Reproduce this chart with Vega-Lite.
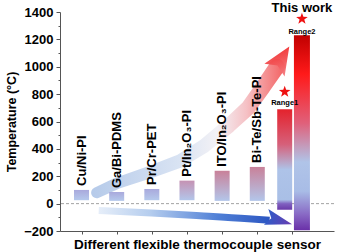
{
  "$schema": "https://vega.github.io/schema/vega-lite/v6.json",
  "width": 274,
  "height": 219,
  "autosize": {"type": "none"},
  "padding": {"left": 60, "top": 12, "right": 8, "bottom": 21},
  "config": {
    "font": "Liberation Sans",
    "view": {"stroke": null},
    "axis": {"labelOverlap": false, "grid": false, "domainColor": "#555", "tickColor": "#555", "labelColor": "#000", "titleColor": "#000", "titleFontWeight": "bold", "labelFontWeight": "bold"}
  },
  "datasets": {
    "bars": [
      {"name": "Cu/Ni-PI", "x": 1, "lo": 25, "hi": 100, "grp": "a"},
      {"name": "Ga/Bi-PDMS", "x": 2, "lo": 20, "hi": 85, "grp": "a"},
      {"name": "Pr/Cr-PET", "x": 3, "lo": 25, "hi": 107, "grp": "a"},
      {"name": "Pt/In₂O₃-PI", "x": 4, "lo": 25, "hi": 168, "grp": "b"},
      {"name": "ITO/In₂O₃-PI", "x": 5, "lo": 20, "hi": 240, "grp": "c"},
      {"name": "Bi-Te/Sb-Te-PI", "x": 6, "lo": 20, "hi": 268, "grp": "c"}
    ],
    "ranges": [
      {"name": "Range1", "x": 6.78, "lo": -45, "hi": 690, "star": 817, "lab": 737},
      {"name": "Range2", "x": 7.27, "lo": -195, "hi": 1230, "star": 1350, "lab": 1255}
    ],
    "upper": [
      {"x": 1.43, "y": 80},
      {"x": 1.98, "y": 146},
      {"x": 2.99, "y": 234},
      {"x": 3.82, "y": 314},
      {"x": 4.5, "y": 423},
      {"x": 5.19, "y": 569},
      {"x": 5.74, "y": 700},
      {"x": 6.15, "y": 847},
      {"x": 6.56, "y": 1000}
    ],
    "upperHead": [{"x": 6.7, "y": 1062}],
    "lower": [
      {"x": 1.49, "y": -51},
      {"x": 2.99, "y": -68},
      {"x": 4.37, "y": -88},
      {"x": 5.74, "y": -110},
      {"x": 6.35, "y": -122}
    ],
    "lowerHead": [{"x": 6.62, "y": -124}],
    "title": [{"x": 7.27, "y": 1432, "t": "This work"}],
    "zero": [{"x": 1, "y": 0}]
  },
  "layer": [
    {
      "data": {"name": "zero"},
      "mark": {"type": "rule", "stroke": "#8a8a8a", "strokeWidth": 0.8, "strokeDash": [3, 2]},
      "encoding": {
        "y": {"field": "y", "type": "quantitative", "scale": {"domain": [-200, 1400], "nice": false, "zero": false},
          "axis": {"title": "Temperature (°C)", "values": [-200, -100, 0, 100, 200, 300, 400, 500, 600, 700, 800, 900, 1000, 1100, 1200, 1300, 1400], "format": "d", "labelExpr": "datum.value % 200 === 0 ? datum.label : ''", "labelOverlap": false, "tickSize": {"condition": {"test": "datum.value % 200 === 0", "value": 4}, "value": 2}, "labelFontSize": 13, "labelPadding": 3, "titleFontSize": 12.5, "titlePadding": 5}}
      }
    },
    {
      "data": {"name": "upper"},
      "mark": {
        "type": "trail", "opacity": 0.8,
        "fill": {"gradient": "linear", "x1": 0, "y1": 0, "x2": 1, "y2": 0,
          "stops": [
            {"offset": 0, "color": "#a3bde4"},
            {"offset": 0.45, "color": "#cfdcf0"},
            {"offset": 0.65, "color": "#f0eef3"},
            {"offset": 0.8, "color": "#f3b2b7"},
            {"offset": 1, "color": "#f03a3a"}
          ]}
      },
      "encoding": {
        "x": {"field": "x", "type": "quantitative", "scale": {"domain": [0.53, 8.04], "nice": false, "zero": false},
          "axis": {"title": "Different flexible thermocouple sensor", "values": [1, 2, 3, 4, 5, 6, 7], "labels": false, "tickSize": 3, "titleFontSize": 13.5, "titlePadding": 3}},
        "y": {"field": "y", "type": "quantitative", "scale": {"domain": [-200, 1400], "nice": false, "zero": false},
          "axis": {"title": "Temperature (°C)", "values": [-200, -100, 0, 100, 200, 300, 400, 500, 600, 700, 800, 900, 1000, 1100, 1200, 1300, 1400], "format": "d", "labelExpr": "datum.value % 200 === 0 ? datum.label : ''", "labelOverlap": false, "tickSize": {"condition": {"test": "datum.value % 200 === 0", "value": 4}, "value": 2}, "labelFontSize": 13, "labelPadding": 3, "titleFontSize": 12.5, "titlePadding": 5}},
        "size": {"field": "x", "type": "quantitative", "scale": {"domain": [1.4, 6.6], "range": [11, 16]}, "legend": null}
      }
    },
    {
      "data": {"name": "upperHead"},
      "mark": {"type": "point", "filled": true, "opacity": 0.95, "strokeWidth": 0,
        "fill": {"gradient": "linear", "x1": 0, "y1": 1, "x2": 1, "y2": 0,
          "stops": [{"offset": 0, "color": "#f47c80"}, {"offset": 1, "color": "#f01a1a"}]},
        "shape": "M-1,-0.85L1,0L-1,0.85L-0.6,0Z", "size": 784, "angle": -58},
      "encoding": {
        "x": {"field": "x", "type": "quantitative", "scale": {"domain": [0.53, 8.04], "nice": false, "zero": false},
          "axis": {"title": "Different flexible thermocouple sensor", "values": [1, 2, 3, 4, 5, 6, 7], "labels": false, "tickSize": 3, "titleFontSize": 13.5, "titlePadding": 3}},
        "y": {"field": "y", "type": "quantitative", "scale": {"domain": [-200, 1400], "nice": false, "zero": false},
          "axis": {"title": "Temperature (°C)", "values": [-200, -100, 0, 100, 200, 300, 400, 500, 600, 700, 800, 900, 1000, 1100, 1200, 1300, 1400], "format": "d", "labelExpr": "datum.value % 200 === 0 ? datum.label : ''", "labelOverlap": false, "tickSize": {"condition": {"test": "datum.value % 200 === 0", "value": 4}, "value": 2}, "labelFontSize": 13, "labelPadding": 3, "titleFontSize": 12.5, "titlePadding": 5}}
      }
    },
    {
      "data": {"name": "lower"},
      "mark": {
        "type": "line", "strokeWidth": 7, "interpolate": "monotone", "strokeCap": "butt",
        "stroke": {"gradient": "linear", "x1": 0, "y1": 0, "x2": 1, "y2": 0,
          "stops": [
            {"offset": 0, "color": "#e6eef9"},
            {"offset": 0.3, "color": "#b5cdee"},
            {"offset": 0.7, "color": "#4f7fd6"},
            {"offset": 1, "color": "#2c56c2"}
          ]}
      },
      "encoding": {
        "x": {"field": "x", "type": "quantitative", "scale": {"domain": [0.53, 8.04], "nice": false, "zero": false},
          "axis": {"title": "Different flexible thermocouple sensor", "values": [1, 2, 3, 4, 5, 6, 7], "labels": false, "tickSize": 3, "titleFontSize": 13.5, "titlePadding": 3}},
        "y": {"field": "y", "type": "quantitative", "scale": {"domain": [-200, 1400], "nice": false, "zero": false},
          "axis": {"title": "Temperature (°C)", "values": [-200, -100, 0, 100, 200, 300, 400, 500, 600, 700, 800, 900, 1000, 1100, 1200, 1300, 1400], "format": "d", "labelExpr": "datum.value % 200 === 0 ? datum.label : ''", "labelOverlap": false, "tickSize": {"condition": {"test": "datum.value % 200 === 0", "value": 4}, "value": 2}, "labelFontSize": 13, "labelPadding": 3, "titleFontSize": 12.5, "titlePadding": 5}}
      }
    },
    {
      "data": {"name": "lowerHead"},
      "mark": {"type": "point", "filled": true, "opacity": 1, "strokeWidth": 0,
        "fill": {"gradient": "linear", "x1": 0, "y1": 0, "x2": 1, "y2": 0,
          "stops": [{"offset": 0, "color": "#2f5cc8"}, {"offset": 1, "color": "#6a3cb0"}]},
        "shape": "M-1,-0.6L1,0L-1,0.6L-0.6,0Z", "size": 729, "angle": 16},
      "encoding": {
        "x": {"field": "x", "type": "quantitative", "scale": {"domain": [0.53, 8.04], "nice": false, "zero": false},
          "axis": {"title": "Different flexible thermocouple sensor", "values": [1, 2, 3, 4, 5, 6, 7], "labels": false, "tickSize": 3, "titleFontSize": 13.5, "titlePadding": 3}},
        "y": {"field": "y", "type": "quantitative", "scale": {"domain": [-200, 1400], "nice": false, "zero": false},
          "axis": {"title": "Temperature (°C)", "values": [-200, -100, 0, 100, 200, 300, 400, 500, 600, 700, 800, 900, 1000, 1100, 1200, 1300, 1400], "format": "d", "labelExpr": "datum.value % 200 === 0 ? datum.label : ''", "labelOverlap": false, "tickSize": {"condition": {"test": "datum.value % 200 === 0", "value": 4}, "value": 2}, "labelFontSize": 13, "labelPadding": 3, "titleFontSize": 12.5, "titlePadding": 5}}
      }
    },
    {
      "data": {"name": "bars"},
      "transform": [{"filter": "datum.grp === 'a'"}],
      "mark": {"type": "bar", "width": 15,
        "fill": {"gradient": "linear", "x1": 0, "y1": 1, "x2": 0, "y2": 0,
          "stops": [{"offset": 0, "color": "#b5c9ec"}, {"offset": 1, "color": "#a9a9dc"}]}},
      "encoding": {
        "x": {"field": "x", "type": "quantitative", "scale": {"domain": [0.53, 8.04], "nice": false, "zero": false},
          "axis": {"title": "Different flexible thermocouple sensor", "values": [1, 2, 3, 4, 5, 6, 7], "labels": false, "tickSize": 3, "titleFontSize": 13.5, "titlePadding": 3}},
        "y": {"field": "lo", "type": "quantitative", "scale": {"domain": [-200, 1400], "nice": false, "zero": false},
          "axis": {"title": "Temperature (°C)", "values": [-200, -100, 0, 100, 200, 300, 400, 500, 600, 700, 800, 900, 1000, 1100, 1200, 1300, 1400], "format": "d", "labelExpr": "datum.value % 200 === 0 ? datum.label : ''", "labelOverlap": false, "tickSize": {"condition": {"test": "datum.value % 200 === 0", "value": 4}, "value": 2}, "labelFontSize": 13, "labelPadding": 3, "titleFontSize": 12.5, "titlePadding": 5}},
        "y2": {"field": "hi"}
      }
    },
    {
      "data": {"name": "bars"},
      "transform": [{"filter": "datum.grp === 'b'"}],
      "mark": {"type": "bar", "width": 15,
        "fill": {"gradient": "linear", "x1": 0, "y1": 1, "x2": 0, "y2": 0,
          "stops": [{"offset": 0, "color": "#b3c6ea"}, {"offset": 1, "color": "#c592b3"}]}},
      "encoding": {
        "x": {"field": "x", "type": "quantitative", "scale": {"domain": [0.53, 8.04], "nice": false, "zero": false},
          "axis": {"title": "Different flexible thermocouple sensor", "values": [1, 2, 3, 4, 5, 6, 7], "labels": false, "tickSize": 3, "titleFontSize": 13.5, "titlePadding": 3}},
        "y": {"field": "lo", "type": "quantitative", "scale": {"domain": [-200, 1400], "nice": false, "zero": false},
          "axis": {"title": "Temperature (°C)", "values": [-200, -100, 0, 100, 200, 300, 400, 500, 600, 700, 800, 900, 1000, 1100, 1200, 1300, 1400], "format": "d", "labelExpr": "datum.value % 200 === 0 ? datum.label : ''", "labelOverlap": false, "tickSize": {"condition": {"test": "datum.value % 200 === 0", "value": 4}, "value": 2}, "labelFontSize": 13, "labelPadding": 3, "titleFontSize": 12.5, "titlePadding": 5}},
        "y2": {"field": "hi"}
      }
    },
    {
      "data": {"name": "bars"},
      "transform": [{"filter": "datum.grp === 'c'"}],
      "mark": {"type": "bar", "width": 15,
        "fill": {"gradient": "linear", "x1": 0, "y1": 1, "x2": 0, "y2": 0,
          "stops": [{"offset": 0, "color": "#b3c6ea"}, {"offset": 1, "color": "#c98199"}]}},
      "encoding": {
        "x": {"field": "x", "type": "quantitative", "scale": {"domain": [0.53, 8.04], "nice": false, "zero": false},
          "axis": {"title": "Different flexible thermocouple sensor", "values": [1, 2, 3, 4, 5, 6, 7], "labels": false, "tickSize": 3, "titleFontSize": 13.5, "titlePadding": 3}},
        "y": {"field": "lo", "type": "quantitative", "scale": {"domain": [-200, 1400], "nice": false, "zero": false},
          "axis": {"title": "Temperature (°C)", "values": [-200, -100, 0, 100, 200, 300, 400, 500, 600, 700, 800, 900, 1000, 1100, 1200, 1300, 1400], "format": "d", "labelExpr": "datum.value % 200 === 0 ? datum.label : ''", "labelOverlap": false, "tickSize": {"condition": {"test": "datum.value % 200 === 0", "value": 4}, "value": 2}, "labelFontSize": 13, "labelPadding": 3, "titleFontSize": 12.5, "titlePadding": 5}},
        "y2": {"field": "hi"}
      }
    },
    {
      "data": {"name": "ranges"},
      "transform": [{"filter": "datum.name === 'Range1'"}],
      "mark": {"type": "bar", "width": 15,
        "fill": {"gradient": "linear", "x1": 0, "y1": 0, "x2": 0, "y2": 1,
          "stops": [
            {"offset": 0, "color": "#e4222c"},
            {"offset": 0.35, "color": "#d6607a"},
            {"offset": 0.6, "color": "#aec3e8"},
            {"offset": 0.9, "color": "#a9bfe6"},
            {"offset": 0.94, "color": "#8060c0"},
            {"offset": 1, "color": "#6a3aa8"}
          ]}},
      "encoding": {
        "x": {"field": "x", "type": "quantitative", "scale": {"domain": [0.53, 8.04], "nice": false, "zero": false},
          "axis": {"title": "Different flexible thermocouple sensor", "values": [1, 2, 3, 4, 5, 6, 7], "labels": false, "tickSize": 3, "titleFontSize": 13.5, "titlePadding": 3}},
        "y": {"field": "lo", "type": "quantitative", "scale": {"domain": [-200, 1400], "nice": false, "zero": false},
          "axis": {"title": "Temperature (°C)", "values": [-200, -100, 0, 100, 200, 300, 400, 500, 600, 700, 800, 900, 1000, 1100, 1200, 1300, 1400], "format": "d", "labelExpr": "datum.value % 200 === 0 ? datum.label : ''", "labelOverlap": false, "tickSize": {"condition": {"test": "datum.value % 200 === 0", "value": 4}, "value": 2}, "labelFontSize": 13, "labelPadding": 3, "titleFontSize": 12.5, "titlePadding": 5}},
        "y2": {"field": "hi"}
      }
    },
    {
      "data": {"name": "ranges"},
      "transform": [{"filter": "datum.name === 'Range2'"}],
      "mark": {"type": "bar", "width": 16,
        "fill": {"gradient": "linear", "x1": 0, "y1": 0, "x2": 0, "y2": 1,
          "stops": [
            {"offset": 0, "color": "#c00000"},
            {"offset": 0.2, "color": "#ff1a1a"},
            {"offset": 0.45, "color": "#e0607a"},
            {"offset": 0.65, "color": "#b0c4e8"},
            {"offset": 0.8, "color": "#a8bce6"},
            {"offset": 0.92, "color": "#8868c4"},
            {"offset": 1, "color": "#6a30a8"}
          ]}},
      "encoding": {
        "x": {"field": "x", "type": "quantitative", "scale": {"domain": [0.53, 8.04], "nice": false, "zero": false},
          "axis": {"title": "Different flexible thermocouple sensor", "values": [1, 2, 3, 4, 5, 6, 7], "labels": false, "tickSize": 3, "titleFontSize": 13.5, "titlePadding": 3}},
        "y": {"field": "lo", "type": "quantitative", "scale": {"domain": [-200, 1400], "nice": false, "zero": false},
          "axis": {"title": "Temperature (°C)", "values": [-200, -100, 0, 100, 200, 300, 400, 500, 600, 700, 800, 900, 1000, 1100, 1200, 1300, 1400], "format": "d", "labelExpr": "datum.value % 200 === 0 ? datum.label : ''", "labelOverlap": false, "tickSize": {"condition": {"test": "datum.value % 200 === 0", "value": 4}, "value": 2}, "labelFontSize": 13, "labelPadding": 3, "titleFontSize": 12.5, "titlePadding": 5}},
        "y2": {"field": "hi"}
      }
    },
    {
      "data": {"name": "bars"},
      "mark": {"type": "text", "angle": 270, "align": "left", "baseline": "middle", "dx": 4,
        "fontSize": 13, "fontWeight": "bold", "color": "#000"},
      "encoding": {
        "x": {"field": "x", "type": "quantitative", "scale": {"domain": [0.53, 8.04], "nice": false, "zero": false},
          "axis": {"title": "Different flexible thermocouple sensor", "values": [1, 2, 3, 4, 5, 6, 7], "labels": false, "tickSize": 3, "titleFontSize": 13.5, "titlePadding": 3}},
        "y": {"field": "hi", "type": "quantitative", "scale": {"domain": [-200, 1400], "nice": false, "zero": false},
          "axis": {"title": "Temperature (°C)", "values": [-200, -100, 0, 100, 200, 300, 400, 500, 600, 700, 800, 900, 1000, 1100, 1200, 1300, 1400], "format": "d", "labelExpr": "datum.value % 200 === 0 ? datum.label : ''", "labelOverlap": false, "tickSize": {"condition": {"test": "datum.value % 200 === 0", "value": 4}, "value": 2}, "labelFontSize": 13, "labelPadding": 3, "titleFontSize": 12.5, "titlePadding": 5}},
        "text": {"field": "name"}
      }
    },
    {
      "data": {"name": "ranges"},
      "mark": {"type": "point", "filled": true, "fill": "#ee1111", "strokeWidth": 0, "opacity": 1,
        "shape": "M0,-1L0.235,-0.324L0.951,-0.309L0.38,0.124L0.588,0.809L0,0.4L-0.588,0.809L-0.38,0.124L-0.951,-0.309L-0.235,-0.324Z",
        "size": 150},
      "encoding": {
        "x": {"field": "x", "type": "quantitative", "scale": {"domain": [0.53, 8.04], "nice": false, "zero": false},
          "axis": {"title": "Different flexible thermocouple sensor", "values": [1, 2, 3, 4, 5, 6, 7], "labels": false, "tickSize": 3, "titleFontSize": 13.5, "titlePadding": 3}},
        "y": {"field": "star", "type": "quantitative", "scale": {"domain": [-200, 1400], "nice": false, "zero": false},
          "axis": {"title": "Temperature (°C)", "values": [-200, -100, 0, 100, 200, 300, 400, 500, 600, 700, 800, 900, 1000, 1100, 1200, 1300, 1400], "format": "d", "labelExpr": "datum.value % 200 === 0 ? datum.label : ''", "labelOverlap": false, "tickSize": {"condition": {"test": "datum.value % 200 === 0", "value": 4}, "value": 2}, "labelFontSize": 13, "labelPadding": 3, "titleFontSize": 12.5, "titlePadding": 5}}
      }
    },
    {
      "data": {"name": "ranges"},
      "mark": {"type": "text", "align": "center", "baseline": "middle", "fontSize": 7.5, "fontWeight": "bold", "color": "#000"},
      "encoding": {
        "x": {"field": "x", "type": "quantitative", "scale": {"domain": [0.53, 8.04], "nice": false, "zero": false},
          "axis": {"title": "Different flexible thermocouple sensor", "values": [1, 2, 3, 4, 5, 6, 7], "labels": false, "tickSize": 3, "titleFontSize": 13.5, "titlePadding": 3}},
        "y": {"field": "lab", "type": "quantitative", "scale": {"domain": [-200, 1400], "nice": false, "zero": false},
          "axis": {"title": "Temperature (°C)", "values": [-200, -100, 0, 100, 200, 300, 400, 500, 600, 700, 800, 900, 1000, 1100, 1200, 1300, 1400], "format": "d", "labelExpr": "datum.value % 200 === 0 ? datum.label : ''", "labelOverlap": false, "tickSize": {"condition": {"test": "datum.value % 200 === 0", "value": 4}, "value": 2}, "labelFontSize": 13, "labelPadding": 3, "titleFontSize": 12.5, "titlePadding": 5}},
        "text": {"field": "name"}
      }
    },
    {
      "data": {"name": "title"},
      "mark": {"type": "text", "align": "center", "baseline": "middle", "fontSize": 13, "fontWeight": "bold", "color": "#000"},
      "encoding": {
        "x": {"field": "x", "type": "quantitative", "scale": {"domain": [0.53, 8.04], "nice": false, "zero": false},
          "axis": {"title": "Different flexible thermocouple sensor", "values": [1, 2, 3, 4, 5, 6, 7], "labels": false, "tickSize": 3, "titleFontSize": 13.5, "titlePadding": 3}},
        "y": {"field": "y", "type": "quantitative", "scale": {"domain": [-200, 1400], "nice": false, "zero": false},
          "axis": {"title": "Temperature (°C)", "values": [-200, -100, 0, 100, 200, 300, 400, 500, 600, 700, 800, 900, 1000, 1100, 1200, 1300, 1400], "format": "d", "labelExpr": "datum.value % 200 === 0 ? datum.label : ''", "labelOverlap": false, "tickSize": {"condition": {"test": "datum.value % 200 === 0", "value": 4}, "value": 2}, "labelFontSize": 13, "labelPadding": 3, "titleFontSize": 12.5, "titlePadding": 5}},
        "text": {"field": "t"}
      }
    }
  ]
}
